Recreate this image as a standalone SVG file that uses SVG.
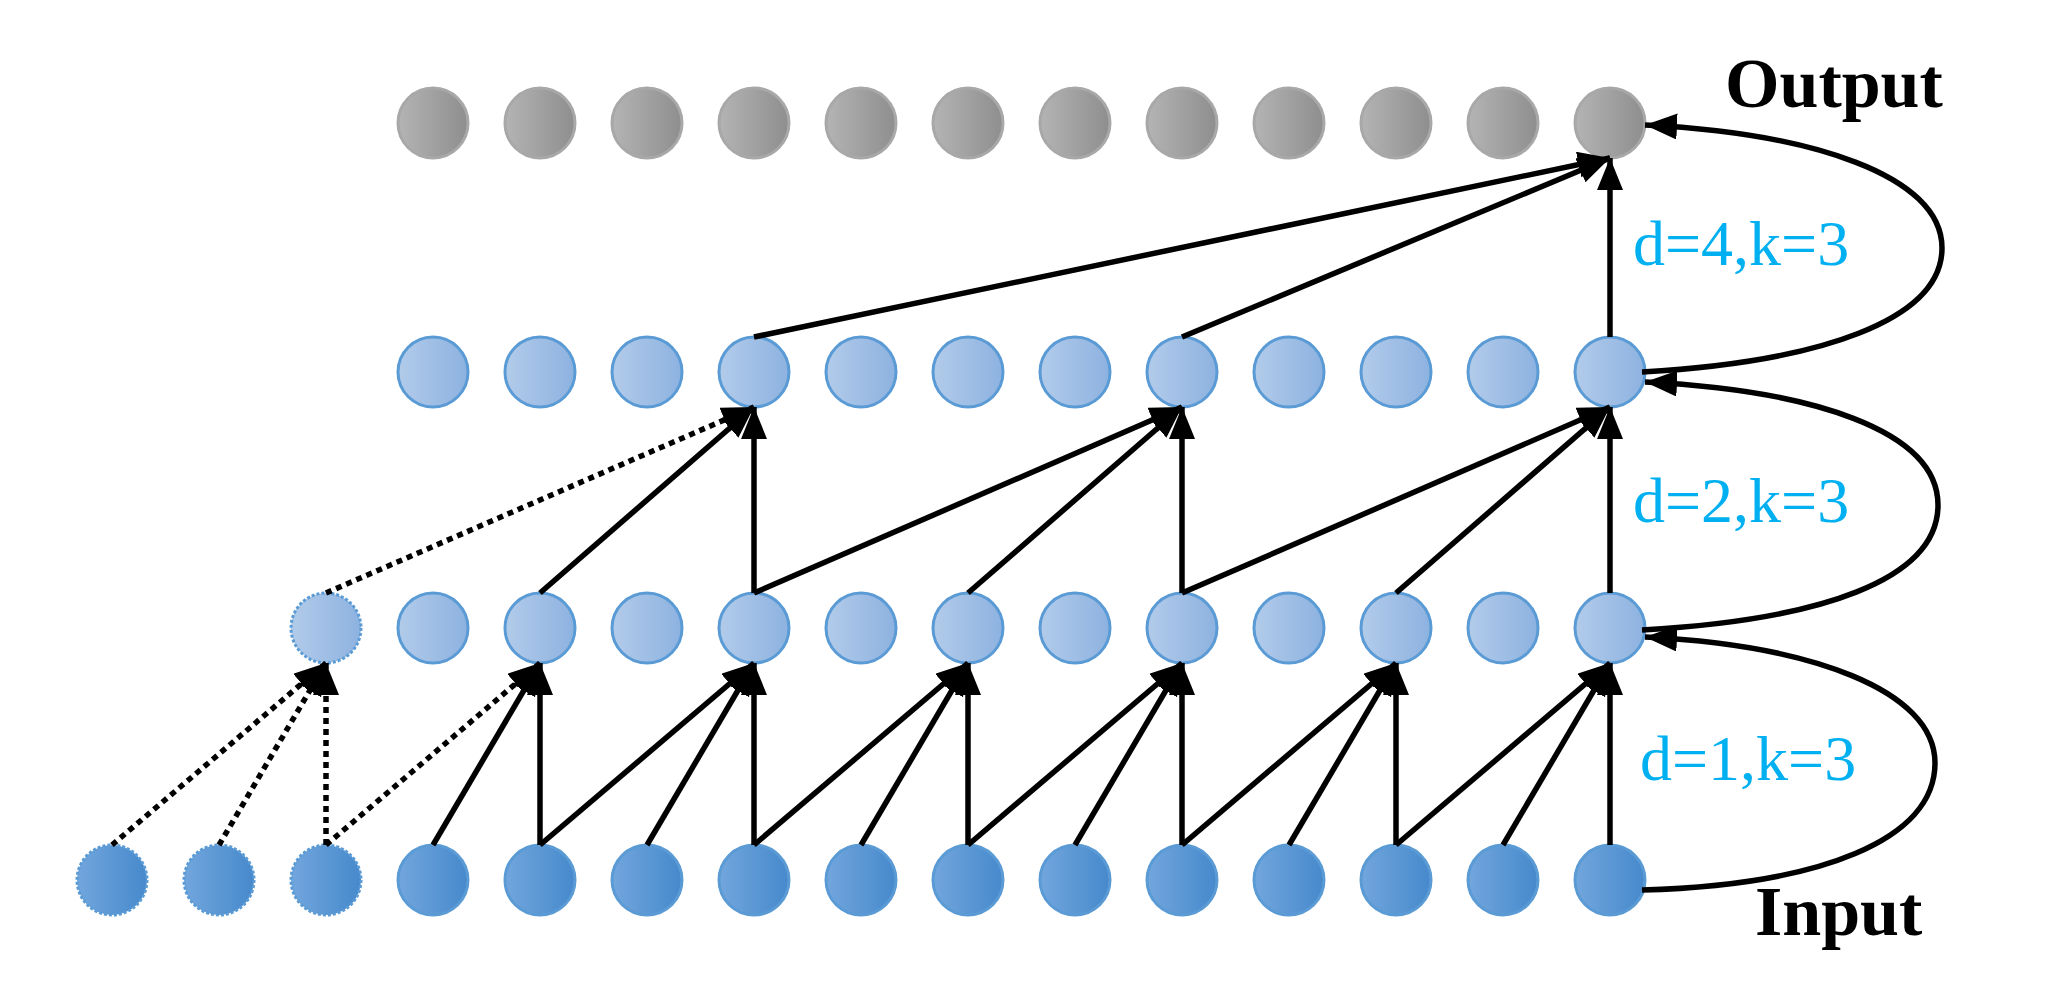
<svg xmlns="http://www.w3.org/2000/svg" width="2051" height="990" viewBox="0 0 2051 990">
<defs>
<linearGradient id="gIn" x1="0" x2="1" y1="0" y2="0"><stop offset="0" stop-color="#72a6dd"/><stop offset="1" stop-color="#4689cc"/></linearGradient>
<linearGradient id="gHid" x1="0" x2="1" y1="0" y2="0"><stop offset="0" stop-color="#b2cbea"/><stop offset="1" stop-color="#8db2e0"/></linearGradient>
<linearGradient id="gOut" x1="0" x2="1" y1="0" y2="0"><stop offset="0" stop-color="#b4b4b4"/><stop offset="1" stop-color="#8e8e8e"/></linearGradient>
<marker id="ar" markerUnits="userSpaceOnUse" markerWidth="34" markerHeight="28" refX="32" refY="13" orient="auto"><path d="M0,0 L32,13 L0,26 z" fill="#000"/></marker>
<style>
.in{fill:url(#gIn);stroke:#5b9bd5;stroke-width:3}
.hid{fill:url(#gHid);stroke:#5b9bd5;stroke-width:3}
.out{fill:url(#gOut);stroke:#a8a8a8;stroke-width:3}
.dn{stroke-dasharray:3 2}
.e{stroke:#000;stroke-width:5.5;fill:none;marker-end:url(#ar)}
.d{stroke-dasharray:6 5}
.lbl{font-family:"Liberation Serif",serif;font-size:64px;fill:#00b0f0}
.tt{font-family:"Liberation Serif",serif;font-size:70px;font-weight:bold;fill:#000}
</style>
</defs>
<g id="input">
<circle class="in dn" cx="112" cy="880" r="35"/><circle class="in dn" cx="219" cy="880" r="35"/><circle class="in dn" cx="326" cy="880" r="35"/><circle class="in" cx="433" cy="880" r="35"/><circle class="in" cx="540" cy="880" r="35"/><circle class="in" cx="647" cy="880" r="35"/><circle class="in" cx="754" cy="880" r="35"/><circle class="in" cx="861" cy="880" r="35"/><circle class="in" cx="968" cy="880" r="35"/><circle class="in" cx="1075" cy="880" r="35"/><circle class="in" cx="1182" cy="880" r="35"/><circle class="in" cx="1289" cy="880" r="35"/><circle class="in" cx="1396" cy="880" r="35"/><circle class="in" cx="1503" cy="880" r="35"/><circle class="in" cx="1610" cy="880" r="35"/>
</g>
<g id="hidden1">
<circle class="hid dn" cx="326" cy="628" r="35"/><circle class="hid" cx="433" cy="628" r="35"/><circle class="hid" cx="540" cy="628" r="35"/><circle class="hid" cx="647" cy="628" r="35"/><circle class="hid" cx="754" cy="628" r="35"/><circle class="hid" cx="861" cy="628" r="35"/><circle class="hid" cx="968" cy="628" r="35"/><circle class="hid" cx="1075" cy="628" r="35"/><circle class="hid" cx="1182" cy="628" r="35"/><circle class="hid" cx="1289" cy="628" r="35"/><circle class="hid" cx="1396" cy="628" r="35"/><circle class="hid" cx="1503" cy="628" r="35"/><circle class="hid" cx="1610" cy="628" r="35"/>
</g>
<g id="hidden2">
<circle class="hid" cx="433" cy="372" r="35"/><circle class="hid" cx="540" cy="372" r="35"/><circle class="hid" cx="647" cy="372" r="35"/><circle class="hid" cx="754" cy="372" r="35"/><circle class="hid" cx="861" cy="372" r="35"/><circle class="hid" cx="968" cy="372" r="35"/><circle class="hid" cx="1075" cy="372" r="35"/><circle class="hid" cx="1182" cy="372" r="35"/><circle class="hid" cx="1289" cy="372" r="35"/><circle class="hid" cx="1396" cy="372" r="35"/><circle class="hid" cx="1503" cy="372" r="35"/><circle class="hid" cx="1610" cy="372" r="35"/>
</g>
<g id="output">
<circle class="out" cx="433" cy="123" r="35"/><circle class="out" cx="540" cy="123" r="35"/><circle class="out" cx="647" cy="123" r="35"/><circle class="out" cx="754" cy="123" r="35"/><circle class="out" cx="861" cy="123" r="35"/><circle class="out" cx="968" cy="123" r="35"/><circle class="out" cx="1075" cy="123" r="35"/><circle class="out" cx="1182" cy="123" r="35"/><circle class="out" cx="1289" cy="123" r="35"/><circle class="out" cx="1396" cy="123" r="35"/><circle class="out" cx="1503" cy="123" r="35"/><circle class="out" cx="1610" cy="123" r="35"/>
</g>
<g id="connectors">
<path class="e d" d="M112,845 L326,663"/><path class="e d" d="M219,845 L326,663"/><path class="e d" d="M326,845 L326,663"/>
<path class="e d" d="M326,845 L540,663"/><path class="e" d="M433,845 L540,663"/><path class="e" d="M540,845 L540,663"/>
<path class="e" d="M540,845 L754,663"/><path class="e" d="M647,845 L754,663"/><path class="e" d="M754,845 L754,663"/>
<path class="e" d="M754,845 L968,663"/><path class="e" d="M861,845 L968,663"/><path class="e" d="M968,845 L968,663"/>
<path class="e" d="M968,845 L1182,663"/><path class="e" d="M1075,845 L1182,663"/><path class="e" d="M1182,845 L1182,663"/>
<path class="e" d="M1182,845 L1396,663"/><path class="e" d="M1289,845 L1396,663"/><path class="e" d="M1396,845 L1396,663"/>
<path class="e" d="M1396,845 L1610,663"/><path class="e" d="M1503,845 L1610,663"/><path class="e" d="M1610,845 L1610,663"/>
<path class="e d" d="M326,593 L754,407"/><path class="e" d="M540,593 L754,407"/><path class="e" d="M754,593 L754,407"/>
<path class="e" d="M754,593 L1182,407"/><path class="e" d="M968,593 L1182,407"/><path class="e" d="M1182,593 L1182,407"/>
<path class="e" d="M1182,593 L1610,407"/><path class="e" d="M1396,593 L1610,407"/><path class="e" d="M1610,593 L1610,407"/>
<path class="e" d="M754,337 L1610,158"/><path class="e" d="M1182,337 L1610,158"/><path class="e" d="M1610,337 L1610,158"/>
<path class="e" d="M1642,890 C1820,885 1935,840 1935,763 C1935,690 1810,645 1645,637"/>
<path class="e" d="M1642,630 C1820,620 1938,580 1938,505 C1938,430 1810,390 1645,382"/>
<path class="e" d="M1642,372 C1820,362 1942,320 1942,248 C1942,175 1810,133 1645,125"/>
</g>
<g id="labels">
<text class="tt" x="1725" y="107">Output</text>
<text class="tt" x="1755" y="935">Input</text>
<text class="lbl" x="1633" y="265">d=4,k=3</text>
<text class="lbl" x="1633" y="522">d=2,k=3</text>
<text class="lbl" x="1640" y="780">d=1,k=3</text>
</g>
</svg>
